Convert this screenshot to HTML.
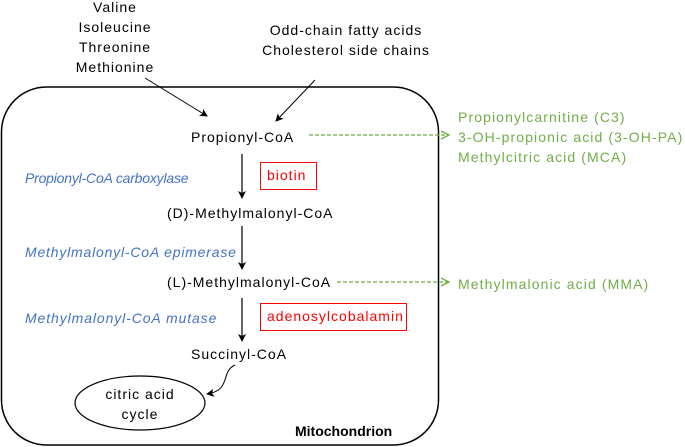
<!DOCTYPE html>
<html><head><style>
body{margin:0;width:685px;height:447px;background:#fff;overflow:hidden;position:relative;font-family:"Liberation Sans","Noto Sans CJK JP",sans-serif;}
.t{position:absolute;font-size:14px;color:#000;white-space:nowrap;line-height:19px;letter-spacing:1px}
.e{color:#4472c4;font-style:italic;letter-spacing:0}
.g{color:#70ad47;letter-spacing:1.1px}
.r{color:#f00}
.box{position:absolute;border:1px solid #f00}
</style></head><body>
<svg width="685" height="447" style="position:absolute;left:0;top:0">
<defs>
<marker id="a" markerWidth="8" markerHeight="8" refX="7" refY="4" orient="auto" markerUnits="userSpaceOnUse"><path d="M0,0 L8,4 L0,8 L2,4z" fill="#000"/></marker>
<marker id="ga" markerWidth="10" markerHeight="10" refX="9" refY="5" orient="auto" markerUnits="userSpaceOnUse"><path d="M1,1 L9,5 L1,9" fill="none" stroke="#70ad47" stroke-width="1.3"/></marker>
</defs>
<rect x="1.5" y="87" width="437" height="358" rx="45" fill="none" stroke="#000" stroke-width="1.5"/>
<line x1="145" y1="78" x2="207" y2="116" stroke="#000" marker-end="url(#a)"/>
<line x1="315" y1="80" x2="276" y2="121" stroke="#000" marker-end="url(#a)"/>
<line x1="242" y1="154" x2="242" y2="198" stroke="#000" stroke-width="1.2" marker-end="url(#a)"/>
<line x1="242" y1="226" x2="242" y2="269" stroke="#000" stroke-width="1.2" marker-end="url(#a)"/>
<line x1="242" y1="298" x2="242" y2="341" stroke="#000" stroke-width="1.2" marker-end="url(#a)"/>
<path d="M235,365 C220,372 232,390 207,394" fill="none" stroke="#000" marker-end="url(#a)"/>
<ellipse cx="140" cy="403" rx="65" ry="27" fill="none" stroke="#000" stroke-width="1.2"/>
<line x1="309" y1="135" x2="449" y2="135" stroke="#70ad47" stroke-width="1.2" stroke-dasharray="4,2" marker-end="url(#ga)"/>
<line x1="337" y1="282" x2="449" y2="282" stroke="#70ad47" stroke-width="1.2" stroke-dasharray="4,2" marker-end="url(#ga)"/>
</svg>
<div class="t" style="left:55px;top:-3px;width:120px;text-align:center;line-height:20px">Valine<br>Isoleucine<br>Threonine<br>Methionine</div>
<div class="t" style="left:246px;top:20px;width:200px;text-align:center;line-height:20px">Odd-chain fatty acids<br>Cholesterol side chains</div>
<div class="t" style="left:191px;top:128px">Propionyl-CoA</div>
<div class="t" style="left:167px;top:204px">(D)-Methylmalonyl-CoA</div>
<div class="t" style="left:167px;top:273px">(L)-Methylmalonyl-CoA</div>
<div class="t" style="left:191px;top:345px">Succinyl-CoA</div>
<div class="t" style="left:95px;top:384px;width:90px;text-align:center;line-height:20px">citric acid<br>cycle</div>
<div class="t" style="left:295px;top:422px;font-weight:bold;letter-spacing:0">Mitochondrion</div>
<div class="t e" style="left:25px;top:169px;letter-spacing:-0.2px">Propionyl-CoA carboxylase</div>
<div class="t e" style="left:25px;top:243px;letter-spacing:0.8px">Methylmalonyl-CoA epimerase</div>
<div class="t e" style="left:25px;top:309px;letter-spacing:0.9px">Methylmalonyl-CoA mutase</div>
<div class="box" style="left:260px;top:162px;width:55px;height:26px"></div>
<div class="t r" style="left:267px;top:166px">biotin</div>
<div class="box" style="left:260px;top:303px;width:145px;height:26px"></div>
<div class="t r" style="left:267px;top:307px">adenosylcobalamin</div>
<div class="t g" style="left:458px;top:107px;line-height:20px">Propionylcarnitine (C3)<br>3-OH-propionic acid (3-OH-PA)<br>Methylcitric acid (MCA)</div>
<div class="t g" style="left:458px;top:275px">Methylmalonic acid (MMA)</div>
</body></html>
